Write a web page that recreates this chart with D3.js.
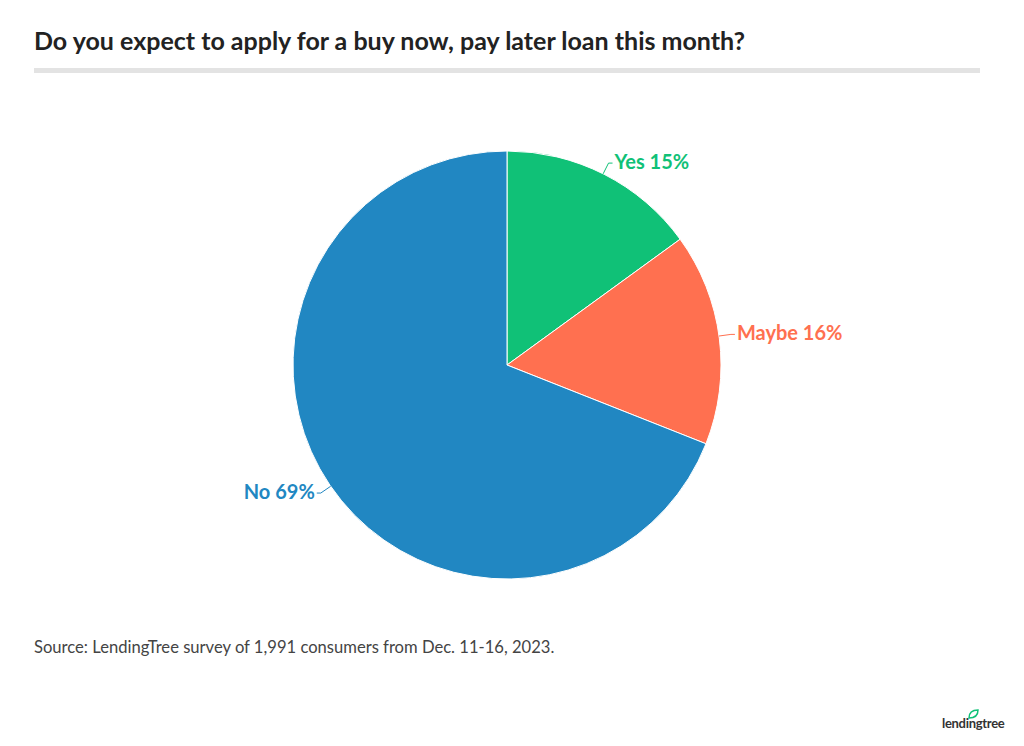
<!DOCTYPE html>
<html><head><meta charset="utf-8">
<script src="https://cdn.jsdelivr.net/npm/d3@7"></script>
<style>body{margin:0;background:#fff;font-family:Lato,sans-serif}</style>
</head><body>
<svg id="chart" width="1024" height="746"></svg>
<script>
var labels = ["Yes", "Maybe", "No"];
var values = [15, 16, 69];
var colors = ["#10c177", "#ff7050", "#2187c2"];

var svg = d3.select("#chart");
var cx = 507, cy = 365, R = 214;

svg.append("text").attr("x", 34).attr("y", 50)
  .attr("font-size", 25).attr("font-weight", 700).attr("fill", "#222")
  .text("Do you expect to apply for a buy now, pay later loan this month?");
svg.append("rect").attr("x", 34).attr("y", 68).attr("width", 946).attr("height", 5).attr("fill", "#e3e3e3");

var pie = d3.pie().sort(null).value(function(d){ return d; });
var arcs = pie(values);
var arc = d3.arc().innerRadius(0).outerRadius(R);

var g = svg.append("g").attr("transform", "translate(" + cx + "," + cy + ")");
g.selectAll("path").data(arcs).enter().append("path")
  .attr("d", arc).attr("fill", function(d, i){ return colors[i]; })
  .attr("stroke", "#fff").attr("stroke-width", 1);

// leader angles tuned from the picture
var leadAngle = [0.466, 1.435, 4.11];
arcs.forEach(function(d, i){
  var a = leadAngle[i];
  var x0 = Math.sin(a) * R, y0 = -Math.cos(a) * R;
  var x1 = Math.sin(a) * (R + 12), y1 = -Math.cos(a) * (R + 12);
  var right = x1 > 0;
  var x2 = x1 + (right ? 4 : -4);
  g.append("path").attr("d", "M" + x0 + "," + y0 + "L" + x1 + "," + y1 + "L" + x2 + "," + y1)
    .attr("fill", "none").attr("stroke", colors[i]).attr("stroke-width", 1);
  g.append("text").attr("x", x2 + (right ? 2 : -2)).attr("y", y1 + 6)
    .attr("text-anchor", right ? "start" : "end")
    .attr("font-size", 20).attr("font-weight", 700).attr("fill", colors[i])
    .text(labels[i] + " " + values[i] + "%");
});

svg.append("text").attr("x", 34).attr("y", 653).attr("font-size", 16.6).attr("fill", "#444")
  .text("Source: LendingTree survey of 1,991 consumers from Dec. 11-16, 2023.");

var logo = svg.append("g").attr("transform", "translate(942,728)");
logo.append("text").attr("font-size", 13).attr("font-weight", 700).attr("fill", "#333").attr("letter-spacing", -0.3).text("lendingtree");
logo.append("path").attr("d", "M27,-10 C27,-16 31,-18 36,-18 C36,-12 32,-10 27,-10Z")
  .attr("fill", "none").attr("stroke", "#10c177").attr("stroke-width", 1.5);
</script>
</body></html>
